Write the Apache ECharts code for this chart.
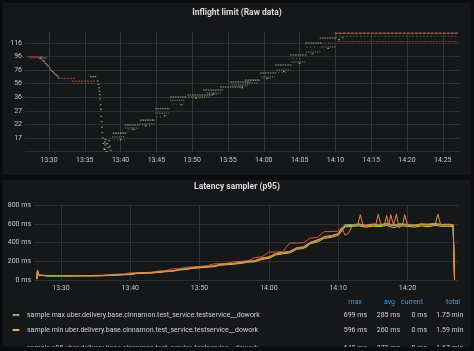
<!DOCTYPE html>
<html>
<head>
<meta charset="utf-8">
<script src="https://cdn.jsdelivr.net/npm/echarts@6/dist/echarts.min.js"></script>
<style>
  html, body { margin: 0; padding: 0; background: #0b0c0e; width: 474px; height: 351px; overflow: hidden; }
  .panel { position: absolute; background: #161719; border-radius: 2px; }
  #p1 { left: 3px; top: 3px; width: 468px; height: 172px; }
  #p2 { left: 3px; top: 180px; width: 468px; height: 167px; }
  #chart { position: absolute; left: 0; top: 0; width: 474px; height: 351px; }
</style>
</head>
<body>
<div class="panel" id="p1"></div>
<div class="panel" id="p2"></div>
<div id="chart"></div>
<script>
// ---------- Inflight limit (raw data) ----------
// times are minutes after 13:00
const inflightTicks = [17, 22, 27, 36, 56, 76, 96, 116];

// horizontal point runs: [start minute, end minute, value]
const inflightRed = [
  [27.1, 29.2, 96],
  [27.3, 28.9, 94.5],
  [31.3, 33.6, 64],
  [33.2, 36.4, 60]
];
const inflightTopRed = [[69.9, 87.1, 130.4]];
const inflightTopTeal = [[70.0, 87.1, 126]];
const inflightTopDark = [[70.2, 87.1, 118]];
const inflightLight = [
  [28.8, 29.7, 94], [35.7, 36.7, 66.5], [38.9, 40.9, 18.8], [40.6, 42.7, 21.8],
  [42.7, 44.8, 23.6], [44.8, 46.9, 28.4], [46.9, 49.3, 36.4], [49.3, 52.9, 39.4],
  [51.5, 54.3, 46.8], [53.9, 57.1, 51.2], [55.3, 58.1, 58.6], [57.4, 59.5, 61.4],
  [59.5, 61.8, 71.8], [61.6, 63.9, 83.6], [63.7, 66.0, 98.4], [65.8, 68.1, 116],
  [67.8, 70.2, 123.4]
];
const inflightGreen = [
  [38.8, 40.5, 17.4], [40.6, 42.5, 20.7], [42.7, 44.8, 22.2], [44.8, 46.9, 26.2],
  [46.9, 49.0, 34], [49.5, 52.5, 36.5], [52.0, 54.0, 42.4], [55.5, 58.0, 54.2],
  [57.4, 59.2, 57], [59.6, 61.5, 66], [61.8, 63.7, 76.2], [63.8, 65.8, 88],
  [65.9, 68.0, 102.8], [68.0, 70.0, 110.2]
];
const inflightDim = [
  [33.5, 36.2, 57], [39.0, 40.6, 16.2], [41.0, 42.4, 20.0], [43.0, 44.5, 21.5],
  [45.0, 46.5, 24.7], [47.2, 48.8, 31.5], [50.0, 52.0, 35.5], [52.3, 53.8, 40.5],
  [56.0, 57.8, 52.5], [59.8, 61.2, 63.5], [62.0, 63.5, 72.5], [64.0, 65.5, 93],
  [66.0, 67.5, 110], [68.0, 69.8, 116]
];
// single points: [minute, value]
const inflightDots = [
  [28.8, 93], [29.1, 91], [29.3, 89], [29.5, 86], [29.7, 84], [29.9, 82], [30.1, 79],
  [30.3, 76], [30.5, 74], [30.7, 72], [30.9, 70], [31.1, 68], [31.3, 66],
  [36.8, 60], [36.9, 55], [37.0, 50], [37.05, 45], [37.1, 40], [37.15, 35], [37.2, 31],
  [37.25, 28], [37.3, 25], [37.35, 23], [37.4, 21], [37.45, 19], [37.5, 17], [37.6, 15],
  [37.7, 13], [37.8, 15.5], [37.9, 14.5], [38.1, 15], [38.3, 13.5], [37.8, 12.8],
  [38.0, 12], [38.2, 11.5], [38.5, 14], [38.6, 12.5], [37.9, 16.5], [38.4, 16],
  [40.0, 16.5], [41.8, 20.2], [43.5, 21.5], [46.2, 25.2], [48.5, 31], [50.5, 35.5],
  [53.0, 41], [57.0, 50], [60.5, 64], [62.8, 74], [65.0, 86], [66.8, 100], [69.0, 108],
  [70.5, 121], [71.0, 124]
];

// ---------- Latency sampler (p95) ----------
const latTimes = [26.5, 26.6, 26.8, 27, 28, 29, 30, 31, 32, 33, 34, 35, 36, 37, 38, 39, 40,
  41, 42, 43, 44, 45, 46, 47, 48, 49, 50, 51, 52, 53, 54, 55, 56, 57, 58, 59, 60, 61, 62,
  63, 64, 65, 66, 67, 68, 69, 70, 71, 72, 73, 74, 75, 76, 77, 78, 79, 80, 81, 82, 83, 84,
  85, 86, 86.6, 86.8];
const latGreen = [10, 108, 55, 47, 46, 45, 46, 45, 46, 47, 46, 47, 48, 52, 56, 60, 64, 76, 78, 80,
  86, 94, 98, 114, 120, 134, 140, 146, 152, 168, 174, 180, 190, 202, 208, 236, 248, 286, 296,
  306, 346, 356, 406, 426, 466, 476, 498, 588, 594, 600, 584, 598, 590, 606, 588, 602, 592,
  584, 600, 596, 606, 592, 596, 590, 0];
const latYellow = [8, 95, 50, 44, 43, 43, 44, 43, 44, 44, 44, 45, 46, 48, 52, 56, 58, 70, 72, 74,
  80, 88, 92, 106, 112, 124, 130, 136, 142, 158, 164, 170, 178, 190, 196, 220, 232, 268, 280,
  290, 328, 338, 388, 408, 446, 456, 478, 568, 574, 580, 566, 576, 572, 584, 560, 580, 574,
  566, 578, 570, 584, 574, 576, 572, 0];
const latBlue = [10, 100, 52, 46, 45, 45, 45, 44, 45, 46, 45, 46, 47, 50, 54, 58, 62, 72, 76, 78,
  82, 92, 96, 110, 116, 130, 136, 142, 148, 164, 170, 176, 186, 198, 204, 230, 242, 280, 292,
  300, 340, 350, 400, 420, 460, 470, 492, 580, 586, 592, 578, 590, 584, 598, 580, 594, 588,
  580, 592, 590, 598, 588, 590, 586, 0];
const latRed = [10, 90, 50, 46, 46, 45, 46, 46, 46, 48, 48, 50, 52, 58, 62, 64, 76, 78, 80, 82,
  96, 100, 118, 120, 135, 140, 146, 152, 172, 176, 180, 196, 200, 206, 240, 248, 300, 300, 305,
  395, 395, 400, 450, 455, 518, 520, 522, 595, 590, 598, 590, 600, 596, 604, 592, 600, 598,
  590, 598, 600, 604, 596, 598, 594, 0];
const latOrange = [
  [26.5, 12], [26.6, 100], [26.8, 52], [27, 45], [30, 45], [33, 46], [36, 47], [37, 50],
  [38, 54], [40, 62], [41, 73], [44, 84], [45, 92], [46, 97], [47, 111], [48, 118], [49, 131],
  [52, 150], [53, 165], [55, 178], [56, 187], [58, 205], [59, 232], [60, 245], [61, 283],
  [63, 303], [64, 342], [65.5, 355], [66, 402], [68, 460], [69, 472], [70, 494], [70.5, 560],
  [71, 480], [71.5, 500], [72, 575], [72.8, 585], [73.2, 700], [73.6, 580], [74.5, 590],
  [75.4, 585], [75.8, 705], [76.2, 580], [76.7, 595], [77, 690], [77.3, 585], [77.6, 700],
  [78, 580], [78.4, 708], [78.8, 560], [79.3, 590], [79.6, 700], [80, 585], [81, 590],
  [82, 600], [83, 585], [84, 595], [84.4, 706], [84.8, 590], [85.5, 598], [86, 588],
  [86.6, 590], [86.8, 0]
];

// legend table
const legendHeaders = ['max', 'avg', 'current', 'total'];
const legendNames = [
  'sample max uber.delivery.base.cinnamon.test_service.testservice__dowork',
  'sample min uber.delivery.base.cinnamon.test_service.testservice__dowork',
  'sample p95 uber.delivery.base.cinnamon.test_service.testservice__dowork'
];
const legendMax = ['699 ms', '596 ms', '648 ms'];
const legendAvg = ['285 ms', '260 ms', '272 ms'];
const legendCurrent = ['0 ms', '0 ms', '0 ms'];
const legendTotal = ['1.75 min', '1.59 min', '1.67 min'];

// ---------- helpers ----------
const BASE = new Date(2021, 5, 1, 13, 0, 0).getTime();
const ts = m => BASE + m * 60000;
function toIdx(v) {
  const t = inflightTicks;
  if (v <= t[0]) return (v - t[0]) / (t[1] - t[0]);
  if (v >= t[t.length - 1]) return (t.length - 1) + (v - t[t.length - 1]) / 20;
  for (let i = 0; i < t.length - 1; i++) {
    if (v >= t[i] && v <= t[i + 1]) return i + (v - t[i]) / (t[i + 1] - t[i]);
  }
  return 0;
}
const FONT = 'Roboto, "Noto Sans", sans-serif';
const GRID_COLOR = '#2e3034';
const LABEL_COLOR = '#c2c6cb';

function segSeries(list, color, width, dash, opacity) {
  return {
    type: 'custom', xAxisIndex: 0, yAxisIndex: 0, silent: true,
    encode: { x: [0, 1], y: 2 },
    data: list.map(s => [ts(s[0]), ts(s[1]), toIdx(s[2])]),
    renderItem: function (params, api) {
      const p0 = api.coord([api.value(0), api.value(2)]);
      const p1 = api.coord([api.value(1), api.value(2)]);
      return {
        type: 'line',
        shape: { x1: p0[0], y1: p0[1], x2: p1[0], y2: p1[1] },
        style: { stroke: color, lineWidth: width, lineDash: dash, opacity: opacity }
      };
    }
  };
}
function latLine(vals, color) {
  return {
    type: 'line', xAxisIndex: 1, yAxisIndex: 1, showSymbol: false, silent: true,
    data: latTimes.map((t, i) => [ts(t), vals[i]]),
    lineStyle: { color: color, width: 1 }, itemStyle: { color: color }
  };
}

// ---------- graphic legend ----------
const graphics = [];
const headerRight = [361.7, 395, 423, 460];
const valueRight = [367, 400, 427, 463.3];
legendHeaders.forEach((h, i) => graphics.push({
  type: 'text', z: 50,
  style: { text: h, x: headerRight[i], y: 302, fill: '#33a2e5', font: '7px ' + FONT, align: 'right', verticalAlign: 'middle' }
}));
const swatchColors = ['#7EB26D', '#EAB839', '#6ED0E0'];
const rowY = [315, 330, 348.3];
legendNames.forEach((n, r) => {
  graphics.push({ type: 'rect', z: 50, shape: { x: 12.7, y: rowY[r] - 1, width: 6.6, height: 2 }, style: { fill: swatchColors[r] } });
  graphics.push({ type: 'text', z: 50, style: { text: n, x: 27, y: rowY[r], fill: '#d0d2d4', font: '7px ' + FONT, align: 'left', verticalAlign: 'middle' } });
  [legendMax[r], legendAvg[r], legendCurrent[r], legendTotal[r]].forEach((v, i) => graphics.push({
    type: 'text', z: 50,
    style: { text: v, x: valueRight[i], y: rowY[r], fill: '#d0d2d4', font: '7px ' + FONT, align: 'right', verticalAlign: 'middle' }
  }));
});
graphics.push({ type: 'rect', z: 60, shape: { x: 0, y: 346.7, width: 474, height: 10 }, style: { fill: '#0b0c0e' } });

const chart = echarts.init(document.getElementById('chart'), null, { renderer: 'canvas' });
chart.setOption({
  animation: false,
  backgroundColor: 'transparent',
  textStyle: { fontFamily: FONT },
  title: [
    { text: 'Inflight limit (Raw data)', left: 'center', top: 8.5, padding: 0,
      textStyle: { color: '#d8d9da', fontSize: 8.5, fontWeight: 'bold', fontFamily: FONT } },
    { text: 'Latency sampler (p95)', left: 'center', top: 182.5, padding: 0,
      textStyle: { color: '#d8d9da', fontSize: 8.5, fontWeight: 'bold', fontFamily: FONT } }
  ],
  graphic: graphics,
  grid: [
    { left: 25, right: 14.5, top: 31.5, bottom: 199.4 },
    { left: 34, right: 15.3, top: 205.3, bottom: 71 }
  ],
  xAxis: [
    { type: 'time', gridIndex: 0, min: ts(26.65), max: ts(87.33), splitNumber: 12,
      axisLine: { show: false }, axisTick: { show: false },
      axisLabel: { color: LABEL_COLOR, fontSize: 7, margin: 5, formatter: '{HH}:{mm}', showMinLabel: false, showMaxLabel: false, hideOverlap: false },
      splitLine: { show: true, showMinLine: false, showMaxLine: false, lineStyle: { color: '#333539', width: 1 } } },
    { type: 'time', gridIndex: 1, min: ts(26.1), max: ts(87.4), splitNumber: 6,
      axisLine: { show: false }, axisTick: { show: false },
      axisLabel: { color: LABEL_COLOR, fontSize: 7, margin: 5, formatter: '{HH}:{mm}', showMinLabel: false, showMaxLabel: false, hideOverlap: false },
      splitLine: { show: true, showMinLine: false, showMaxLine: false, lineStyle: { color: '#333539', width: 1 } } }
  ],
  yAxis: [
    { type: 'value', gridIndex: 0, min: -1, max: 7.85, interval: 1,
      axisLine: { show: false }, axisTick: { show: false },
      axisLabel: { color: LABEL_COLOR, fontSize: 7, margin: 3,
        formatter: v => { const r = Math.round(v); return (Math.abs(v - r) < 1e-6 && r >= 0 && r < inflightTicks.length) ? String(inflightTicks[r]) : ''; } },
      splitLine: { show: true, showMaxLine: false, lineStyle: { color: GRID_COLOR, width: 1 } } },
    { type: 'value', gridIndex: 1, min: 0, max: 800, interval: 200,
      axisLine: { show: false }, axisTick: { show: false },
      axisLabel: { color: LABEL_COLOR, fontSize: 7, margin: 3, formatter: v => v + ' ms' },
      splitLine: { show: true, lineStyle: { color: GRID_COLOR, width: 1 } } }
  ],
  series: [
    segSeries(inflightTopDark, '#6e3a34', 1.2, [2, 1], 0.9),
    segSeries(inflightTopTeal, '#4d6d78', 1.1, [2, 1.5], 0.7),
    segSeries(inflightTopRed, '#b25848', 1.6, [3, 1], 1),
    segSeries(inflightRed, '#93443a', 1.3, [2, 1], 1),
    segSeries(inflightDim, '#7a8577', 1, [1, 2.5], 0.8),
    segSeries(inflightGreen, '#7d9a74', 1, [1.2, 1], 0.85),
    segSeries(inflightLight, '#b4beb0', 1.1, [1.6, 0.8], 0.8),
    { type: 'scatter', xAxisIndex: 0, yAxisIndex: 0, silent: true,
      symbol: 'rect', symbolSize: [1.8, 1.1],
      data: inflightDots.map(d => [ts(d[0]), toIdx(d[1])]),
      itemStyle: { color: '#a9b3a6', opacity: 0.85 } },
    latLine(latRed, '#E24D42'),
    latLine(latBlue, '#6ED0E0'),
    latLine(latYellow, '#EAB839'),
    latLine(latGreen, '#7EB26D'),
    { type: 'line', xAxisIndex: 1, yAxisIndex: 1, showSymbol: false, silent: true,
      data: latOrange.map(d => [ts(d[0]), d[1]]),
      lineStyle: { color: '#EF843C', width: 1 }, itemStyle: { color: '#EF843C' } }
  ]
});
</script>
</body>
</html>
